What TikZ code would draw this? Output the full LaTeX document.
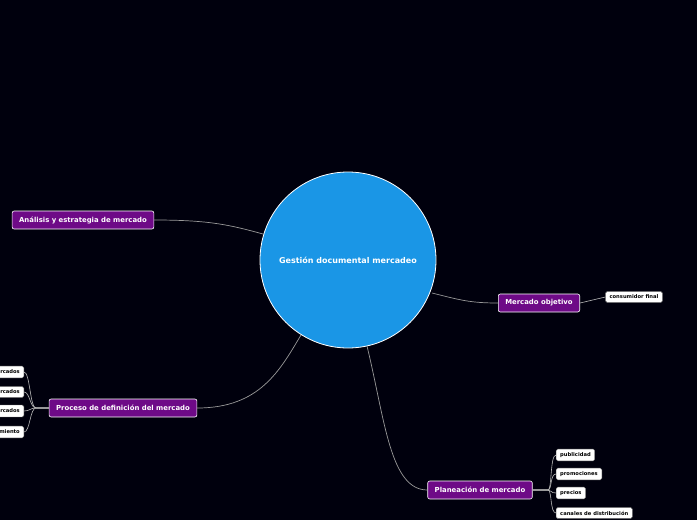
\documentclass[tikz,border=0pt]{standalone}
\usepackage{fontspec}
\setmainfont{DejaVu Sans}
\begin{document}
\begin{tikzpicture}[x=1pt,y=-1pt,
 main/.style={circle,draw=white,line width=0.8pt,fill=cblue,minimum size=176pt,text=white,font=\bfseries\fontsize{8}{9}\selectfont},
 topic/.style={draw=white,line width=0.6pt,fill=cpurple,rounded corners=2pt,text=white,font=\bfseries\fontsize{6.9}{8}\selectfont,minimum height=18pt,inner xsep=7pt},
 leaf/.style={draw=gray,line width=0.4pt,fill=white,rounded corners=1.5pt,text=black,font=\bfseries\fontsize{5.2}{6}\selectfont,minimum height=10pt,inner xsep=4pt},
 link/.style={draw=gray!80,line width=0.7pt},
 sub/.style={draw=gray!55,line width=0.6pt}]
\definecolor{cblue}{HTML}{1A96E6}
\definecolor{cpurple}{HTML}{6E0A87}
\fill[black!95!blue] (0,0) rectangle (697,520);
\clip (0,0) rectangle (697,520);
\useasboundingbox (0,0) rectangle (697,520);
\node[main] (c) at (348,260) {Gestión documental mercadeo};
\node[topic] (a) at (83,220) {Análisis y estrategia de mercado};
\node[topic] (m) at (539,303) {Mercado objetivo};
\node[topic] (p) at (123,408) {Proceso de definición del mercado};
\node[topic] (pl) at (480,490) {Planeación de mercado};
\node[leaf] (cf) at (634,297) {consumidor final};
\node[leaf,anchor=west] (pu) at (556,455) {publicidad};
\node[leaf,anchor=west] (pr) at (556,474) {promociones};
\node[leaf,anchor=west] (pc) at (556,493) {precios};
\node[leaf,anchor=west] (ca) at (556,513) {canales de distribución};
\node[leaf,anchor=east] (l1) at (24,372) {tipos de mercados};
\node[leaf,anchor=east] (l2) at (24,392) {estudio de mercados};
\node[leaf,anchor=east] (l3) at (24,411) {segmentación de mercados};
\node[leaf,anchor=east] (l4) at (24,432) {posicionamiento};
\coordinate (pj) at (548,490);
\coordinate (lj) at (36,408);
\draw[link] (a.east) .. controls (210,220) and (230,225) .. (263,234);
\draw[link] (m.west) .. controls (470,303) and (460,300) .. (432,293);
\draw[link] (p.east) .. controls (260,408) and (280,370) .. (301,335);
\draw[link] (pl.west) .. controls (390,490) and (385,420) .. (367,346);
\draw[sub] (m.east) -- (cf.west);
\foreach \n in {pu,pr,pc,ca}
 \draw[sub] (pl.east) -- (pj) .. controls ([xshift=4pt]pj) and ([xshift=-6pt]\n.west) .. (\n.west);
\foreach \n in {l1,l2,l3,l4}
 \draw[sub] (p.west) -- (lj) .. controls ([xshift=-6pt]lj) and ([xshift=6pt]\n.east) .. (\n.east);
\end{tikzpicture}
\end{document}
